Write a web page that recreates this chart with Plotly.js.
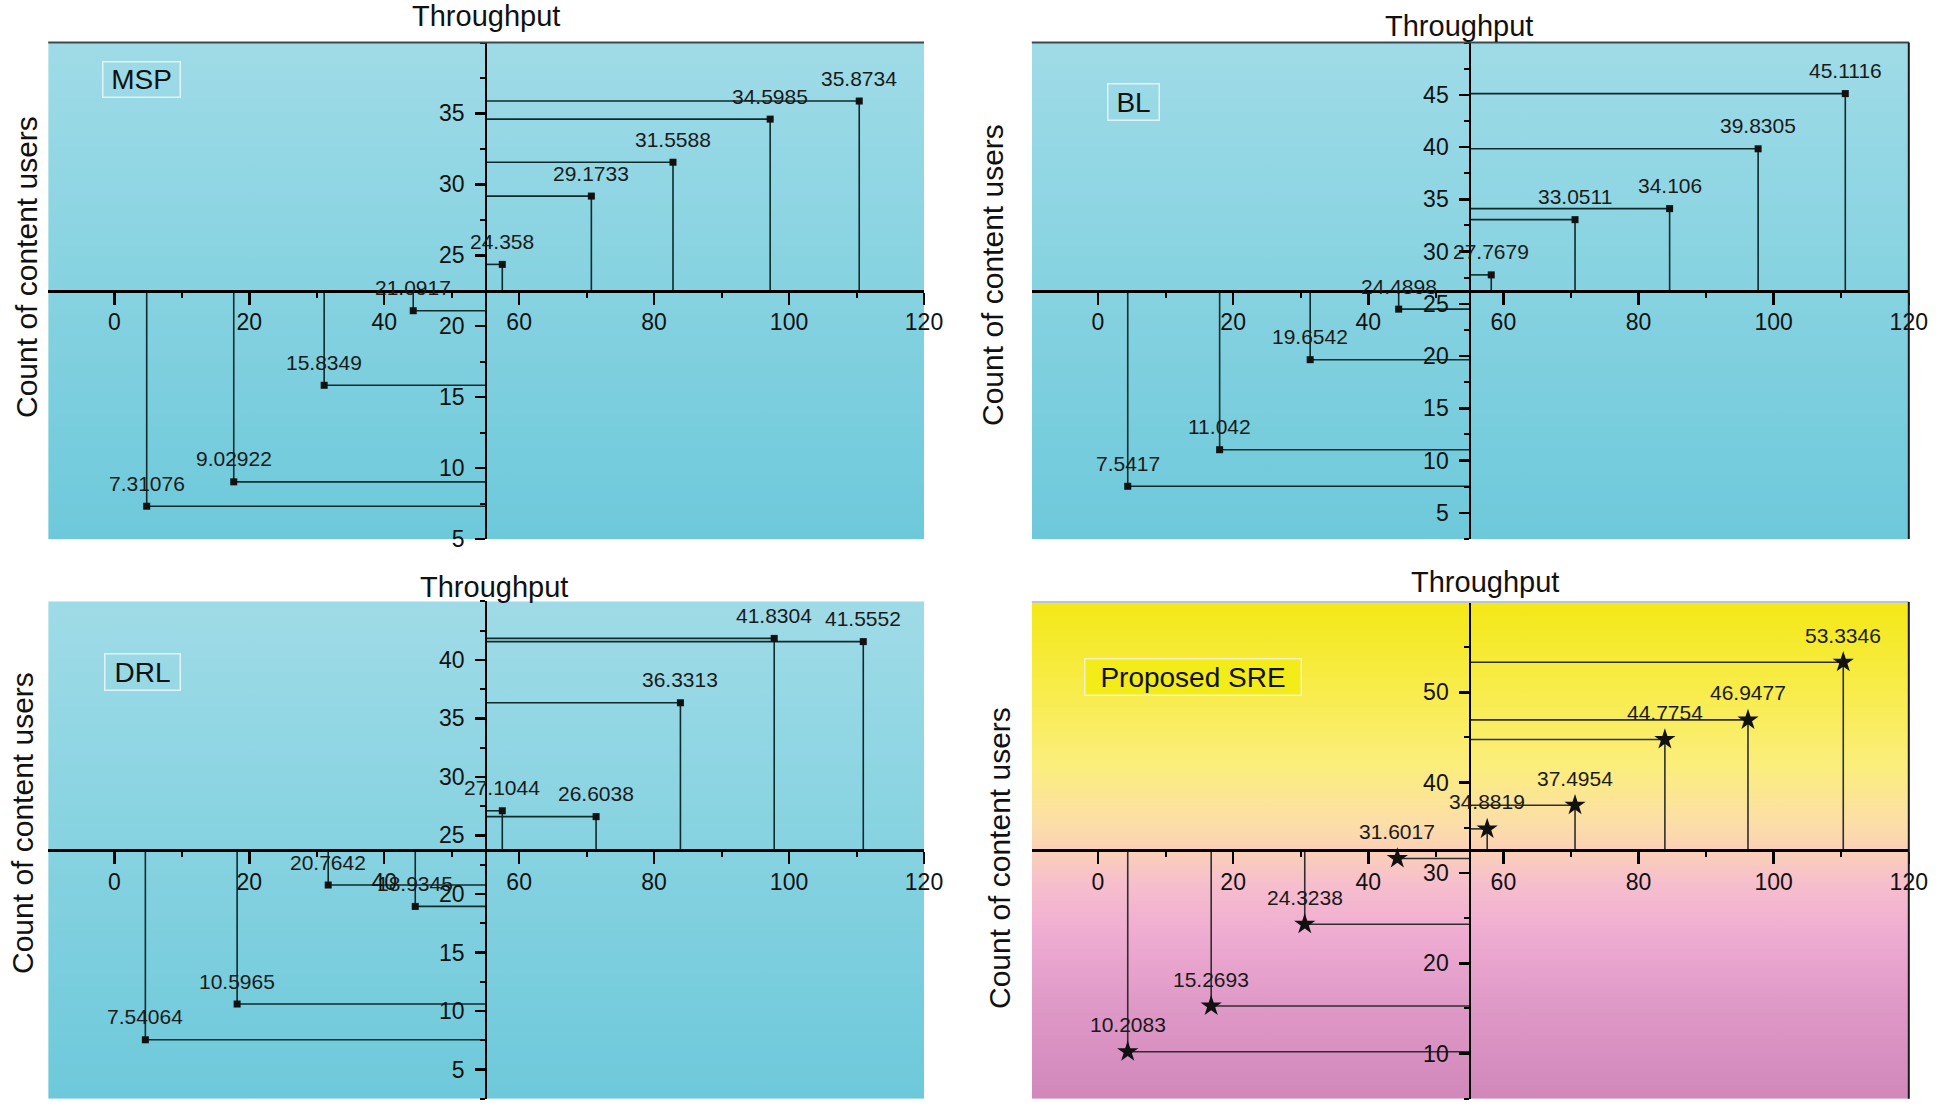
<!DOCTYPE html>
<html><head><meta charset="utf-8">
<script src="https://cdn.plot.ly/plotly-3.0.1.min.js"></script>
<style>html,body{margin:0;padding:0;background:#fff;overflow:hidden}#chart{width:1940px;height:1114px}</style>
</head><body><div id="chart"></div>
<script>
// ---------- data ----------
const methodNames = ['MSP', 'BL', 'DRL', 'Proposed SRE'];
const panelTitle = 'Throughput';
const yTitle = 'Count of content users';

const mspThroughput = [4.8, 17.7, 31.1, 44.3, 57.5, 70.7, 82.8, 97.2, 110.4];
const mspUsers = [7.31076, 9.02922, 15.8349, 21.0917, 24.358, 29.1733, 31.5588, 34.5985, 35.8734];

const blThroughput = [4.4, 18.0, 31.4, 44.5, 58.2, 70.6, 84.6, 97.7, 110.6];
const blUsers = [7.5417, 11.042, 19.6542, 24.4898, 27.7679, 33.0511, 34.106, 39.8305, 45.1116];

const drlThroughput = [4.6, 18.2, 31.7, 44.6, 57.5, 71.4, 83.9, 97.8, 111.0];
const drlUsers = [7.54064, 10.5965, 20.7642, 18.9345, 27.1044, 26.6038, 36.3313, 41.8304, 41.5552];

const sreThroughput = [4.4, 16.75, 30.6, 44.3, 57.6, 70.6, 83.9, 96.2, 110.3];
const sreUsers = [10.2083, 15.2693, 24.3238, 31.6017, 34.8819, 37.4954, 44.7754, 46.9477, 53.3346];

const xTickVals = [0, 20, 40, 60, 80, 100, 120];
const mspYTicks = [5, 10, 15, 20, 25, 30, 35];
const blYTicks = [5, 10, 15, 20, 25, 30, 35, 40, 45];
const drlYTicks = [5, 10, 15, 20, 25, 30, 35, 40];
const sreYTicks = [10, 20, 30, 40, 50];

// ---------- layout / styling ----------
const W = 1940, H = 1114;
const FONT = 'Arial, "Liberation Sans", Helvetica, sans-serif';
const xRange = [-9.8, 120];

function grad(stops) {
  const s = stops.map(([o, c]) => `<stop offset='${o}' stop-color='${c}'/>`).join('');
  const svg = `<svg xmlns='http://www.w3.org/2000/svg' width='10' height='100' viewBox='0 0 10 100' preserveAspectRatio='none'><defs><linearGradient id='g' x1='0' y1='0' x2='0' y2='1'>${s}</linearGradient></defs><rect x='0' y='0' width='10' height='100' fill='url(#g)'/></svg>`;
  return 'data:image/svg+xml;base64,' + btoa(svg);
}
const blueBg = grad([[0, '#9fdbe7'], [1, '#6dc9da']]);
const sreBg = grad([[0, '#f4e816'], [0.18, '#f8ec4c'], [0.33, '#fbee7c'], [0.44, '#fcdfa6'], [0.5, '#fbd1b6'], [0.56, '#f7c0cc'], [0.66, '#f0add2'], [0.8, '#e09ac8'], [1, '#d088bb']]);

const panels = [
  { name: methodNames[0], xs: mspThroughput, ys: mspUsers, yticks: mspYTicks, yrange: [5, 40], minor: 2.5,
    px: [48.2, 924], py: [42.5, 539], title: [486, 16], ytitle: [26, 267], box: [102, 61, 181, 98.4],
    boxBg: 'rgba(0,0,0,0)', boxBorder: '#e2f3f6', bg: blueBg, line: '#0f2a2a', marker: 'square', msize: 7, shift: 23,
    frame: { top: '#3a4a4e', right: null } },
  { name: methodNames[1], xs: blThroughput, ys: blUsers, yticks: blYTicks, yrange: [2.5, 50], minor: 2.5,
    px: [1031.8, 1908.8], py: [42.5, 539], title: [1459, 26], ytitle: [993, 275], box: [1107, 83, 1160, 121],
    boxBg: 'rgba(0,0,0,0)', boxBorder: '#e2f3f6', bg: blueBg, line: '#0f2a2a', marker: 'square', msize: 7, shift: 23,
    frame: { top: '#3a4a4e', right: '#1a1a1a' } },
  { name: methodNames[2], xs: drlThroughput, ys: drlUsers, yticks: drlYTicks, yrange: [2.5, 45], minor: 2.5,
    px: [48.2, 924], py: [601.3, 1098.8], title: [494, 587], ytitle: [22, 823], box: [104, 653, 181, 691],
    boxBg: 'rgba(0,0,0,0)', boxBorder: '#e2f3f6', bg: blueBg, line: '#0f2a2a', marker: 'square', msize: 7, shift: 23,
    frame: { top: null, right: null } },
  { name: methodNames[3], xs: sreThroughput, ys: sreUsers, yticks: sreYTicks, yrange: [5, 60], minor: 5,
    px: [1031.8, 1908.8], py: [602, 1098.8], title: [1485, 582], ytitle: [999, 858], box: [1084, 658, 1302, 696],
    boxBg: '#f4ec18', boxBorder: '#f6f2c6', bg: sreBg, line: '#2e2e2e', marker: 'star', msize: 16, shift: 27,
    frame: { top: '#b9c3dc', right: '#1a1a1a' } }
];

const traces = [];
const annotations = [];
const shapes = [];
const images = [];
const layout = {
  width: W, height: H, margin: { l: 0, r: 0, t: 0, b: 0 },
  paper_bgcolor: '#ffffff', plot_bgcolor: 'rgba(0,0,0,0)',
  showlegend: false, hovermode: false,
  font: { family: FONT, color: '#111' }
};

panels.forEach((p, i) => {
  const n = i === 0 ? '' : String(i + 1);
  const xa = 'x' + n, ya = 'y' + n;
  const dx = [p.px[0] / W, p.px[1] / W];
  const dy = [1 - p.py[1] / H, 1 - p.py[0] / H];
  const xCross = (xRange[0] + xRange[1]) / 2;
  const yCross = (p.yrange[0] + p.yrange[1]) / 2;

  layout['xaxis' + n] = {
    domain: dx, range: xRange, anchor: 'free', position: (dy[0] + dy[1]) / 2,
    showgrid: false, zeroline: false, showline: true, linecolor: '#000', linewidth: 3,
    tickmode: 'array', tickvals: xTickVals, ticktext: xTickVals.map(String),
    ticks: 'outside', ticklen: 12, tickwidth: 2.5, tickcolor: '#000',
    minor: { dtick: 10, tick0: 0, ticks: 'outside', ticklen: 5, tickwidth: 2, tickcolor: '#000' },
    tickfont: { size: 23, family: FONT, color: '#111' }, ticklabelstandoff: -2, fixedrange: true
  };
  layout['yaxis' + n] = {
    domain: dy, range: p.yrange, anchor: 'free', position: (dx[0] + dx[1]) / 2,
    showgrid: false, zeroline: false, showline: true, linecolor: '#000', linewidth: 2,
    tickmode: 'array', tickvals: p.yticks, ticktext: p.yticks.map(String),
    ticks: 'outside', ticklen: 10, tickwidth: 2.5, tickcolor: '#000',
    minor: { dtick: p.minor, tick0: 0, ticks: 'outside', ticklen: 5, tickwidth: 2, tickcolor: '#000' },
    tickfont: { size: 23, family: FONT, color: '#111' }, ticklabelstandoff: 6, fixedrange: true
  };

  images.push({ source: p.bg, xref: 'paper', yref: 'paper', x: dx[0], y: dy[1],
    sizex: dx[1] - dx[0], sizey: dy[1] - dy[0], xanchor: 'left', yanchor: 'top', sizing: 'stretch', layer: 'below' });

  // drop lines built from the data
  const hx = [], hy = [], vx = [], vy = [];
  p.xs.forEach((x, k) => {
    const y = p.ys[k];
    hx.push(x, xCross, null); hy.push(y, y, null);
    vx.push(x, x, null); vy.push(y, yCross, null);
  });
  traces.push({ type: 'scatter', mode: 'lines', x: hx, y: hy, xaxis: xa, yaxis: ya,
    line: { color: p.line, width: 1.6 }, hoverinfo: 'skip', cliponaxis: false });
  traces.push({ type: 'scatter', mode: 'lines', x: vx, y: vy, xaxis: xa, yaxis: ya,
    line: { color: p.line, width: 1.6 }, hoverinfo: 'skip', cliponaxis: false });
  traces.push({ type: 'scatter', mode: 'markers', x: p.xs, y: p.ys, xaxis: xa, yaxis: ya,
    marker: { symbol: p.marker, size: p.msize, color: '#111', line: { width: 0 } }, cliponaxis: false });

  // value labels
  p.xs.forEach((x, k) => {
    annotations.push({ xref: xa, yref: ya, x: x, y: p.ys[k], text: String(p.ys[k]), showarrow: false,
      xanchor: 'center', yanchor: 'middle', yshift: p.shift, font: { size: 21, family: FONT, color: '#1a1a1a' } });
  });

  // panel title and y-axis title
  annotations.push({ xref: 'paper', yref: 'paper', x: p.title[0] / W, y: 1 - p.title[1] / H, text: panelTitle,
    showarrow: false, xanchor: 'center', yanchor: 'middle', font: { size: 29, family: FONT, color: '#111' } });
  annotations.push({ xref: 'paper', yref: 'paper', x: p.ytitle[0] / W, y: 1 - p.ytitle[1] / H, text: yTitle,
    showarrow: false, textangle: -90, xanchor: 'center', yanchor: 'middle', font: { size: 30, family: FONT, color: '#111' } });

  // method name box
  const bw = p.box[2] - p.box[0], bh = p.box[3] - p.box[1];
  annotations.push({ xref: 'paper', yref: 'paper', x: (p.box[0] + p.box[2]) / 2 / W, y: 1 - (p.box[1] + p.box[3]) / 2 / H,
    text: p.name, showarrow: false, xanchor: 'center', yanchor: 'middle', width: bw - 3, height: bh - 3,
    borderpad: 0, bordercolor: p.boxBorder, borderwidth: 1.5, bgcolor: p.boxBg, align: 'center', valign: 'middle',
    font: { size: 28, family: FONT, color: '#111' } });

  // frame lines
  if (p.frame.top) shapes.push({ type: 'line', xref: 'paper', yref: 'paper', x0: dx[0], x1: dx[1], y0: dy[1], y1: dy[1],
    line: { color: p.frame.top, width: 2 } });
  if (p.frame.right) shapes.push({ type: 'line', xref: 'paper', yref: 'paper', x0: dx[1], x1: dx[1], y0: dy[0], y1: dy[1],
    line: { color: p.frame.right, width: 2 } });
});

layout.annotations = annotations;
layout.shapes = shapes;
layout.images = images;

Plotly.newPlot('chart', traces, layout, { displayModeBar: false, staticPlot: true });
</script>
</body></html>
